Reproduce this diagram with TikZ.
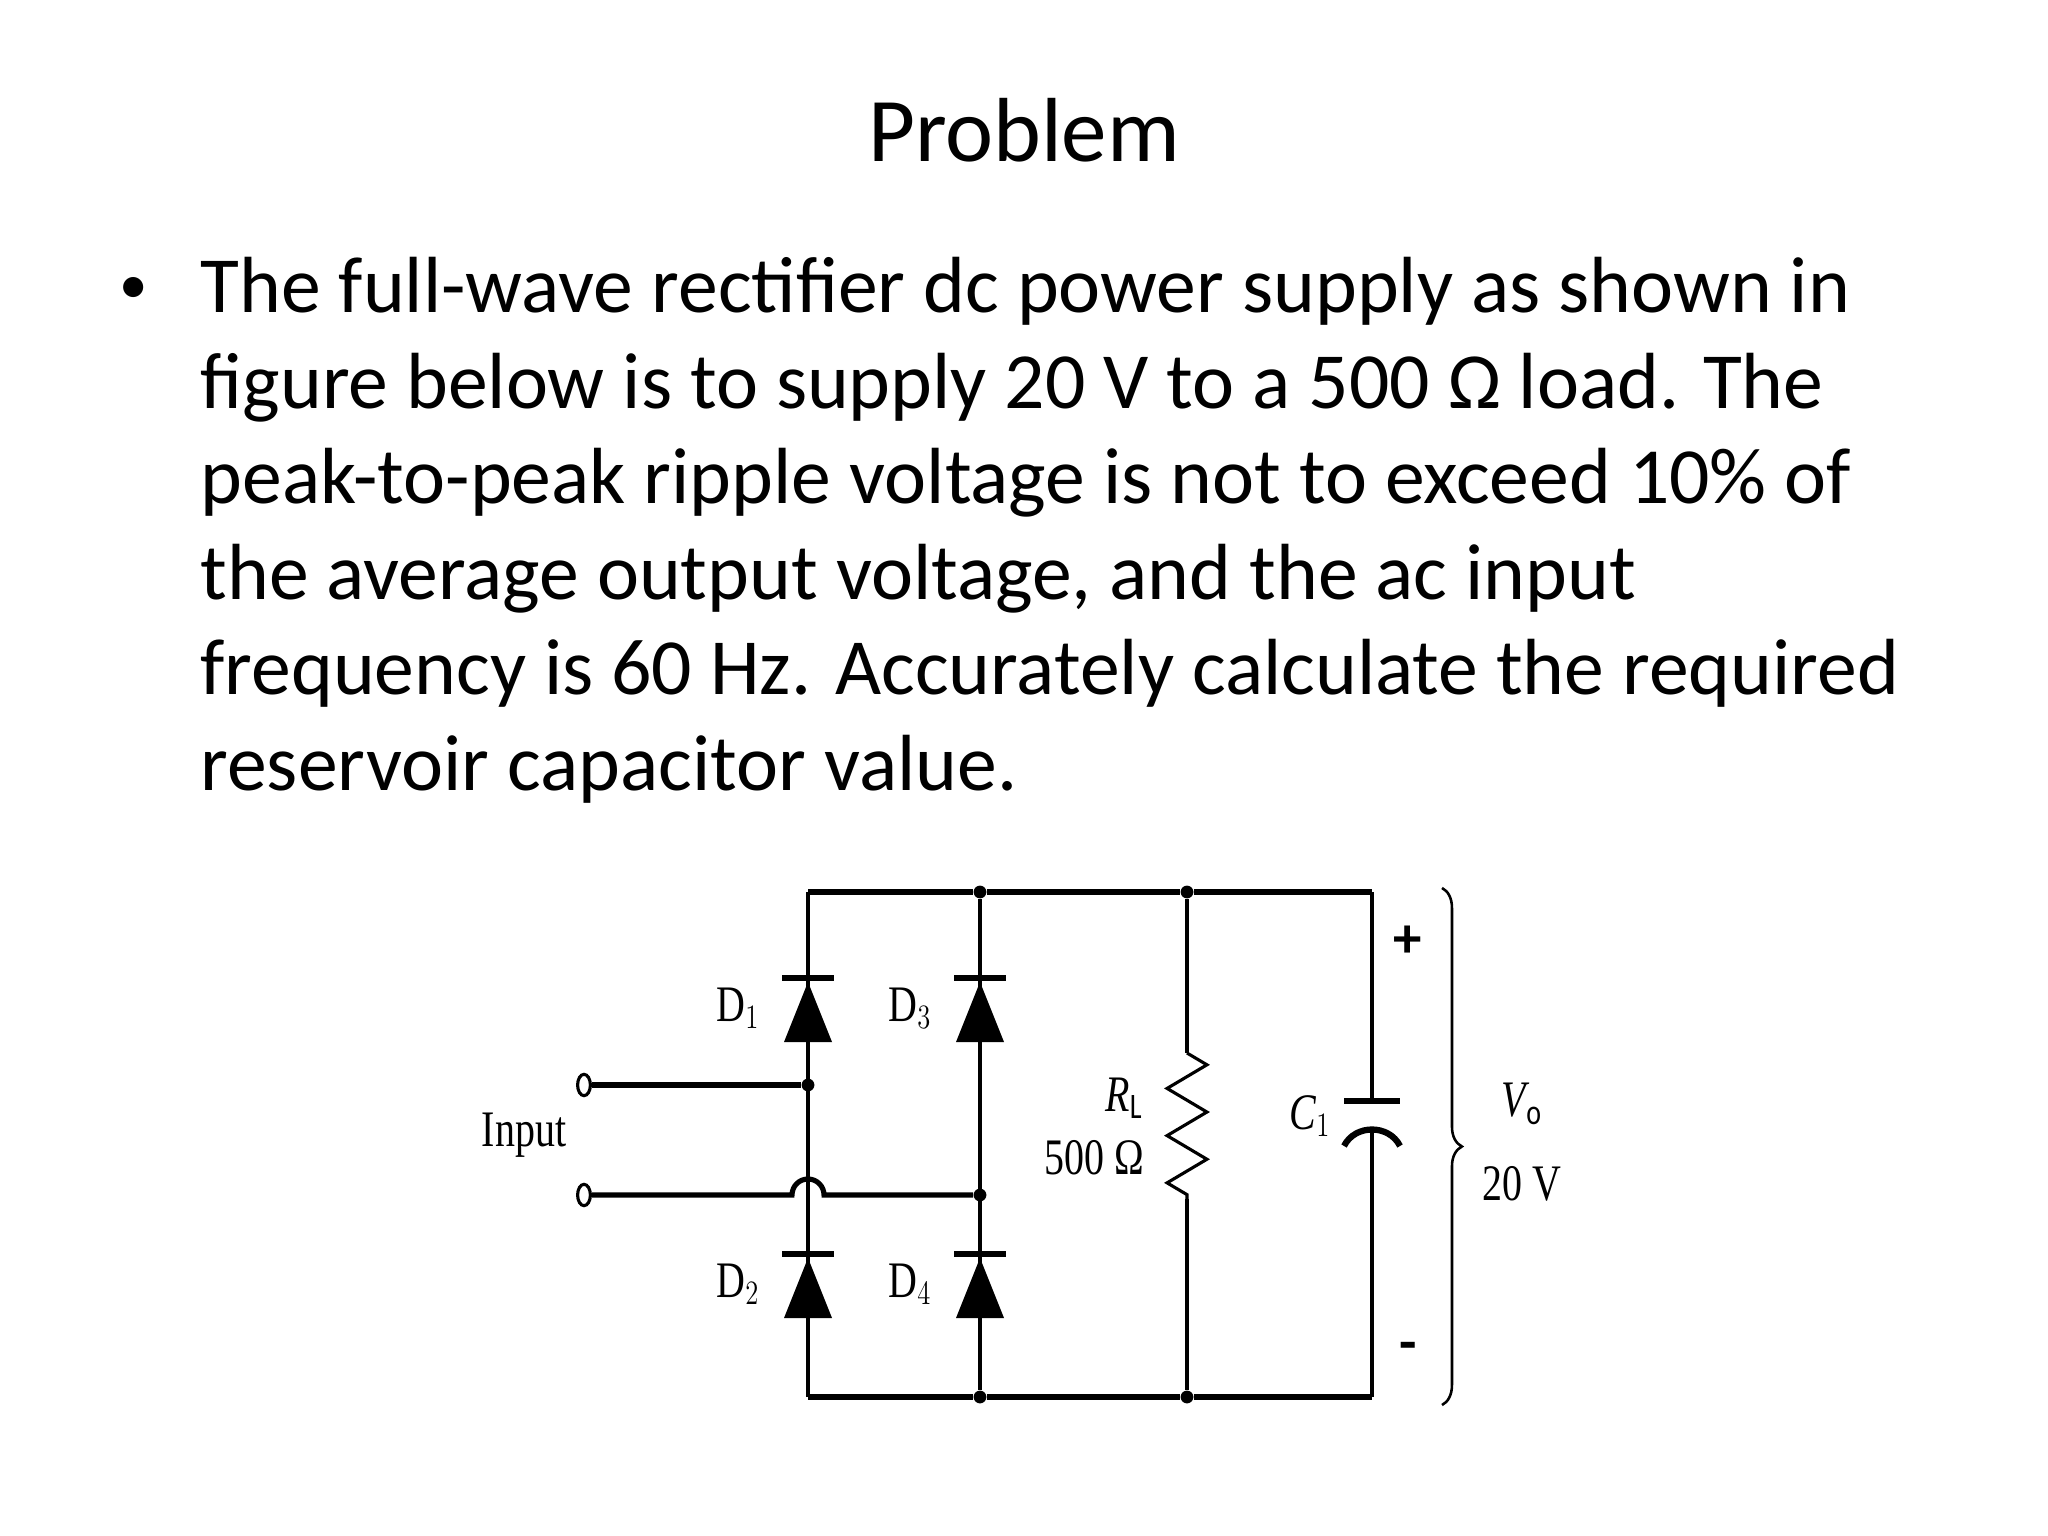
\documentclass[tikz,border=0pt]{standalone}
\usepackage{fontspec}
\setmainfont{Carlito}
\newfontfamily\circfont{Liberation Serif}
\usetikzlibrary{shapes.geometric,decorations.pathmorphing,decorations.pathreplacing}

\tikzset{
	wire/.style={line width=1.1pt},
	rail/.style={line width=1.8pt},
	dot/.style={circle, fill, inner sep=0pt, minimum size=4.5pt},
	lbl/.style={font=\circfont\fontsize{18}{18}\selectfont, xscale=0.78, inner sep=0pt},
	term/.style={ellipse, draw, line width=1.1pt, minimum width=4.5pt, minimum height=7.5pt, inner sep=0pt}
}
% diode pointing up, centre of triangle at #1,#2
\newcommand{\updiode}[2]{%
	\fill (#1-24,#2+30) -- (#1+24,#2+30) -- (#1,#2-30) -- cycle;
	\draw[line width=2.2pt] (#1-26,#2-34) -- (#1+26,#2-34);
}

\begin{document}
\begin{tikzpicture}[x=0.35156pt,y=-0.35156pt]
	\useasboundingbox (0,0) rectangle (2048,1536);
	\fill[white] (0,0) rectangle (2048,1536);
	% text
	\node[anchor=base, font=\fontsize{32}{32}\selectfont, inner sep=0pt] (title) at (1024,162) {Problem};
	\node[anchor=base, font=\fontsize{20}{20}\selectfont, inner sep=0pt] (bul) at (134,304) {•};
	\foreach \ln/\yy in {{The full-wave rectifier dc power supply as shown in}/313,
		{figure below is to supply 20 V to a 500 Ω load. The}/409,
		{peak-to-peak ripple voltage is not to exceed 10\% of}/504,
		{the average output voltage, and the ac input}/600,
		{frequency is 60 Hz. Accurately calculate the required}/695,
		{reservoir capacitor value.}/790}
	\node[anchor=base west, font=\fontsize{28}{28}\selectfont, inner sep=0pt] at (200,\yy) {\ln};

	% junctions
	\coordinate (tl) at (808,892);
	\coordinate (bl) at (808,1397);
	\node[dot] (tm) at (980,892) {};
	\node[dot] (tr) at (1187,892) {};
	\coordinate (tc) at (1372,892);
	\node[dot] (bm) at (980,1397) {};
	\node[dot] (br) at (1187,1397) {};
	\coordinate (bc) at (1372,1397);
	\node[dot] (ja) at (808,1085) {};
	\node[dot] (jb) at (980,1195) {};
	\node[term] (ia) at (584,1085) {};
	\node[term] (ib) at (584,1195) {};

	% rails
	\draw[rail] (tl) -- (tm) -- (tr) -- (tc);
	\draw[rail] (bl) -- (bm) -- (br) -- (bc);
	% bridge
	\draw[wire] (tl) -- (bl);
	\draw[wire] (tm) -- (bm);
	\updiode{808}{1012}
	\updiode{980}{1012}
	\updiode{808}{1288}
	\updiode{980}{1288}
	% input
	\draw[rail] (ia) -- (ja);
	\draw[rail] (ib) -- (792,1195) arc (180:360:16) -- (jb);
	% load
	\draw[wire] (tr) -- (1187,1053);
	\draw[wire, decorate, decoration={zigzag, amplitude=7pt, segment length=16.6pt}] (1187,1053) -- (1187,1199);
	\draw[wire] (1187,1199) -- (br);
	% capacitor
	\draw[wire] (tc) -- (1372,1101);
	\draw[line width=2.2pt] (1344,1101) -- (1400,1101);
	\draw[line width=2.2pt] (1344,1146) .. controls (1355,1124) and (1389,1124) .. (1400,1146);
	\draw[wire] (1372,1130) -- (bc);
	\node[font=\fontsize{20}{20}\bfseries\selectfont] (plus) at (1408,942) {+};
	\node[font=\fontsize{20}{20}\bfseries\selectfont] (minus) at (1408,1352) {-};
	% brace
	\draw[line width=0.9pt, decorate, decoration={brace, amplitude=7pt}] (1442,888) -- (1442,1405);

	% labels
	\node[lbl] at (738,1008) {D$_1$};
	\node[lbl] at (910,1008) {D$_3$};
	\node[lbl] at (738,1284) {D$_2$};
	\node[lbl] at (910,1284) {D$_4$};
	\node[lbl] at (524,1135) {Input};
	\node[lbl] at (1124,1098) {\itshape R$_{\rm L}$};
	\node[lbl] at (1094,1158) {500 Ω};
	\node[lbl] at (1310,1116) {\itshape C$_1$};
	\node[lbl] at (1522,1104) {\itshape V$_{\rm o}$};
	\node[lbl] at (1522,1184) {20 V};
\end{tikzpicture}
\end{document}
